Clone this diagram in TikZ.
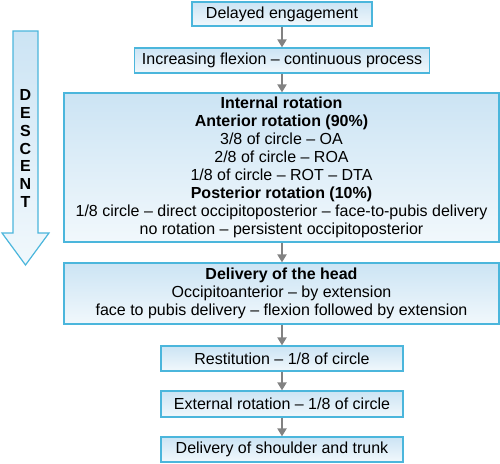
\documentclass[tikz,border=0pt]{standalone}
\usepackage{fontspec}
\setmainfont{Liberation Sans}
\usetikzlibrary{arrows.meta,positioning}
\definecolor{boxline}{RGB}{75,182,220}
\definecolor{boxtop}{RGB}{204,228,244}
\definecolor{boxbot}{RGB}{241,248,252}
\definecolor{flowgray}{RGB}{130,130,130}

\begin{document}
\begin{tikzpicture}[x=1pt,y=1pt,
    stage/.style={rectangle,draw=boxline,line width=1.2pt,top color=boxtop,bottom color=boxbot,
      align=center,inner sep=2pt,font=\fontsize{16}{18}\selectfont},
    flow/.style={-{Triangle[length=8pt,width=9pt]},draw=flowgray,line width=2.5pt},
    descentarrow/.style={draw=boxline,line width=1.2pt,top color=boxtop,bottom color=boxbot}]
\useasboundingbox (0,0) rectangle (500,-463);
        % Mechanism stages
\node[stage,minimum width=180pt,minimum height=24pt] (engage) at (282,-14) {Delayed engagement};
\node[stage,minimum width=295pt,minimum height=25pt] (flexion) at (282,-60.5) {Increasing flexion -- continuous process};
\node[stage,minimum width=435pt,minimum height=149pt] (introt) at (281.5,-167.5) {\textbf{Internal rotation}\\
  \textbf{Anterior rotation (90\%)}\\
  3/8 of circle -- OA\\
  2/8 of circle -- ROA\\
  1/8 of circle -- ROT -- DTA\\
  \textbf{Posterior rotation (10\%)}\\
  1/8 circle -- direct occipitoposterior -- face-to-pubis delivery\\
  no rotation -- persistent occipitoposterior};
\node[stage,minimum width=435pt,minimum height=61pt] (head) at (281.5,-293.5) {\textbf{Delivery of the head}\\
  Occipitoanterior -- by extension\\
  face to pubis delivery -- flexion followed by extension};
\node[stage,minimum width=242pt,minimum height=25pt] (restit) at (282,-358.5) {Restitution -- 1/8 of circle};
\node[stage,minimum width=242pt,minimum height=26pt] (extrot) at (282,-404) {External rotation -- 1/8 of circle};
\node[stage,minimum width=242pt,minimum height=25pt] (shoulder) at (282,-449.5) {Delivery of shoulder and trunk};

\draw[flow] (engage.south) -- (engage.south |- flexion.north);
\draw[flow] (flexion.south) -- (flexion.south |- introt.north);
\draw[flow] (flexion.south |- introt.south) -- (flexion.south |- head.north);
\draw[flow] (restit.north |- head.south) -- (restit.north);
\draw[flow] (restit.south) -- (extrot.north);
\draw[flow] (extrot.south) -- (shoulder.north);

        % Descent arrow
\draw[descentarrow] (13,-31) -- (38,-31) -- (38,-233) -- (49,-233) -- (25.5,-265) -- (2,-233) -- (13,-233) -- cycle;
\node[align=center,font=\bfseries\fontsize{16}{17.8}\selectfont] (descent) at (25.5,-148.5) {D\\E\\S\\C\\E\\N\\T};
    \end{tikzpicture}
\end{document}
